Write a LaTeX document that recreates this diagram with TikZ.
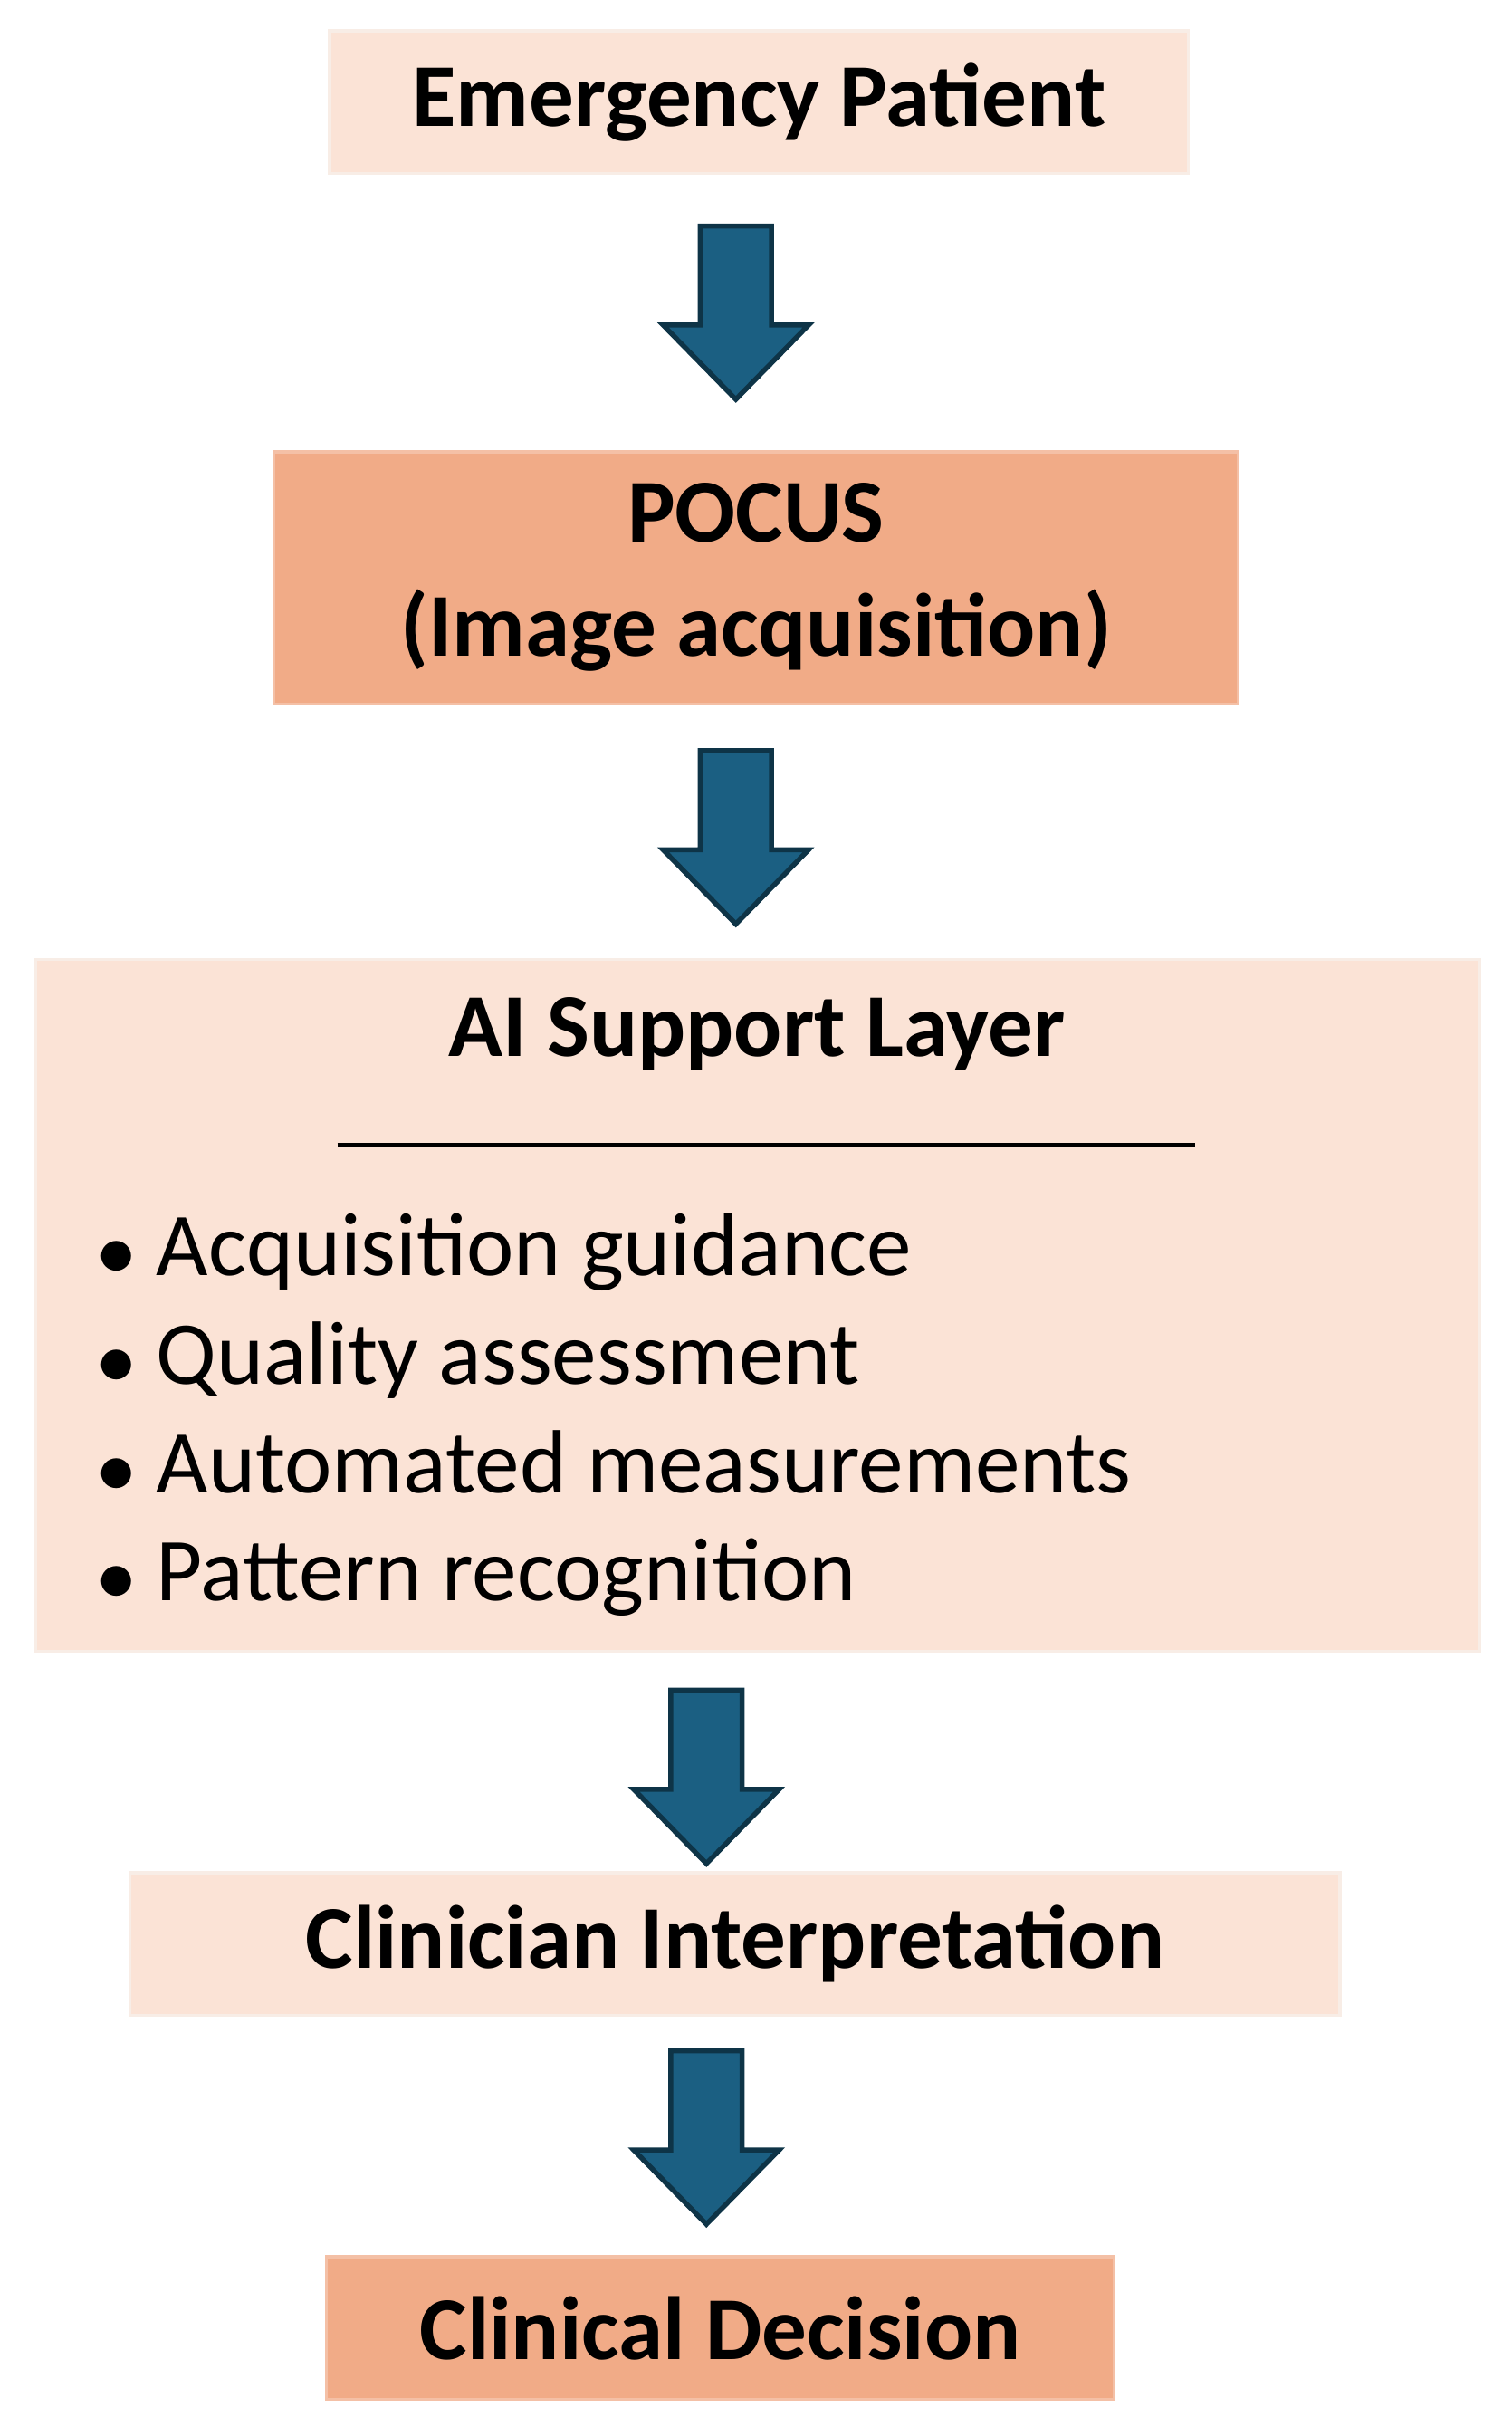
\documentclass[tikz,border=0pt]{standalone}
\usepackage{fontspec}
\setmainfont{Carlito}
\begin{document}
\begin{tikzpicture}[x=0.5pt,y=-0.5pt,
  light/.style={fill=peachL,draw=peachB,line width=1pt},
  dark/.style={fill=peachD,draw=peachDB,line width=1pt},
  ttl/.style={font=\fontsize{29}{35}\selectfont\bfseries,align=center},
  blk/.style={fill=arrowF,draw=arrowD,line width=1.6pt,line join=miter}]
\definecolor{peachL}{HTML}{FBE3D6}
\definecolor{peachB}{HTML}{F8EDE6}
\definecolor{peachD}{HTML}{F1AB87}
\definecolor{peachDB}{HTML}{F4C0A6}
\definecolor{arrowF}{HTML}{1B5F82}
\definecolor{arrowD}{HTML}{0E3447}
\useasboundingbox (0,0) rectangle (977,1568);
\newcommand{\blockarrow}[3]{% center x, top y, bottom y
  \filldraw[blk] (#1-23,#2) -- (#1+23,#2) -- (#1+23,#3-48) -- (#1+47,#3-48) -- (#1,#3) -- (#1-47,#3-48) -- (#1-23,#3-48) -- cycle;}
% boxes
\draw[light] (213,20) rectangle (768,112);
\node[ttl] (ep) at (490.5,66) {Emergency Patient};
\draw[dark] (177,292) rectangle (800,455);
\node[ttl,font=\fontsize{29}{37}\selectfont\bfseries] (pocus) at (488.5,373) {POCUS\\(Image acquisition)};
\draw[light] (23,620) rectangle (956,1067);
\node[ttl] (ai) at (489,668) {AI Support Layer};
\draw[line width=1.5pt] (218,740) -- (772,740);
\node[anchor=north west,align=left,font=\fontsize{29}{35}\selectfont] (list) at (56,777)
  {$\bullet$ Acquisition guidance\\$\bullet$ Quality assessment\\$\bullet$ Automated measurements\\$\bullet$ Pattern recognition};
\draw[light] (84,1210) rectangle (866,1302);
\node[ttl] (ci) at (475,1256) {Clinician Interpretation};
\draw[dark] (211,1458) rectangle (720,1550);
\node[ttl] (cd) at (465.5,1504) {Clinical Decision};
% arrows
\blockarrow{475.5}{146}{258}
\blockarrow{475.5}{485}{597}
\blockarrow{456.5}{1092}{1204}
\blockarrow{456.5}{1325}{1437}
\end{tikzpicture}
\end{document}
